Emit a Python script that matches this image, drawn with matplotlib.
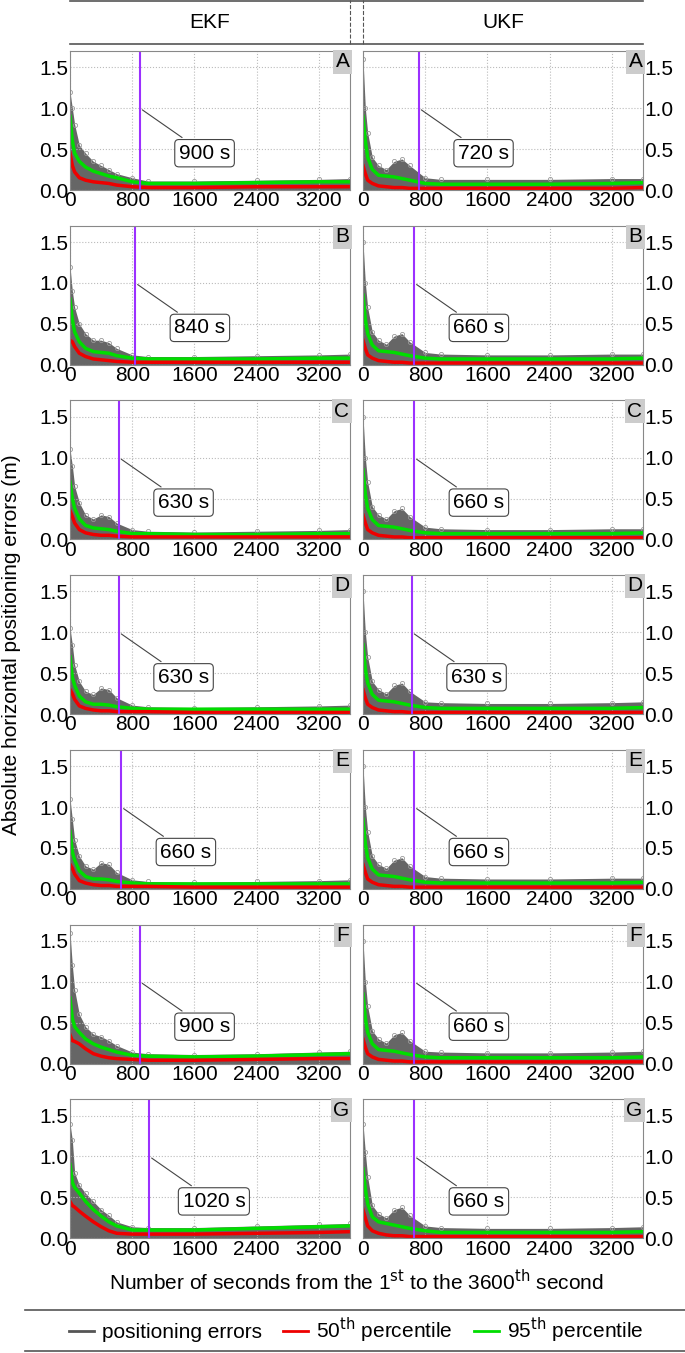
import matplotlib
matplotlib.use('Agg')
import matplotlib.pyplot as plt
from matplotlib.lines import Line2D

t = [0, 30, 60, 120, 200, 300, 400, 500, 600, 800, 1000, 1600, 2400, 3200, 3600]
panels = ['A', 'B', 'C', 'D', 'E', 'F', 'G']
ekf_conv = [900, 840, 630, 630, 660, 900, 1020]
ukf_conv = [720, 660, 660, 630, 660, 660, 660]

ekf_p50 = [
    [0.45, 0.30, 0.22, 0.15, 0.12, 0.10, 0.09, 0.08, 0.06, 0.04, 0.03, 0.03, 0.04, 0.04, 0.04],
    [0.30, 0.28, 0.22, 0.14, 0.10, 0.07, 0.06, 0.05, 0.04, 0.03, 0.03, 0.03, 0.03, 0.03, 0.03],
    [0.35, 0.28, 0.20, 0.12, 0.08, 0.06, 0.05, 0.05, 0.04, 0.03, 0.03, 0.03, 0.03, 0.03, 0.03],
    [0.30, 0.25, 0.18, 0.10, 0.07, 0.05, 0.04, 0.04, 0.03, 0.03, 0.03, 0.02, 0.02, 0.02, 0.02],
    [0.30, 0.25, 0.18, 0.10, 0.07, 0.05, 0.04, 0.04, 0.03, 0.03, 0.03, 0.02, 0.02, 0.02, 0.02],
    [0.35, 0.28, 0.27, 0.24, 0.18, 0.12, 0.09, 0.07, 0.06, 0.05, 0.04, 0.04, 0.05, 0.06, 0.06],
    [0.45, 0.40, 0.38, 0.33, 0.27, 0.20, 0.14, 0.09, 0.06, 0.05, 0.05, 0.05, 0.06, 0.07, 0.08],
]
ekf_p95 = [
    [0.90, 0.60, 0.45, 0.35, 0.28, 0.23, 0.20, 0.17, 0.15, 0.10, 0.08, 0.08, 0.09, 0.10, 0.10],
    [0.80, 0.55, 0.40, 0.28, 0.20, 0.16, 0.15, 0.14, 0.11, 0.08, 0.07, 0.07, 0.07, 0.08, 0.08],
    [0.70, 0.50, 0.38, 0.25, 0.17, 0.14, 0.13, 0.12, 0.10, 0.07, 0.07, 0.06, 0.06, 0.07, 0.07],
    [0.70, 0.45, 0.35, 0.22, 0.15, 0.12, 0.12, 0.11, 0.09, 0.07, 0.06, 0.06, 0.06, 0.06, 0.06],
    [0.70, 0.45, 0.35, 0.22, 0.15, 0.12, 0.12, 0.11, 0.09, 0.07, 0.06, 0.06, 0.06, 0.06, 0.06],
    [0.80, 0.55, 0.45, 0.38, 0.30, 0.24, 0.20, 0.17, 0.14, 0.10, 0.09, 0.08, 0.09, 0.11, 0.12],
    [0.90, 0.68, 0.62, 0.55, 0.45, 0.35, 0.27, 0.20, 0.15, 0.10, 0.10, 0.10, 0.12, 0.14, 0.15],
]
ekf_env = [
    [1.20, 1.00, 0.80, 0.55, 0.45, 0.35, 0.30, 0.25, 0.20, 0.15, 0.11, 0.11, 0.12, 0.13, 0.14],
    [1.20, 0.90, 0.70, 0.50, 0.38, 0.30, 0.30, 0.27, 0.20, 0.12, 0.10, 0.10, 0.11, 0.12, 0.13],
    [1.10, 0.90, 0.65, 0.45, 0.30, 0.25, 0.30, 0.28, 0.20, 0.12, 0.10, 0.09, 0.10, 0.11, 0.12],
    [1.05, 0.85, 0.60, 0.40, 0.28, 0.24, 0.32, 0.30, 0.20, 0.11, 0.09, 0.08, 0.09, 0.10, 0.11],
    [1.10, 0.85, 0.60, 0.40, 0.28, 0.24, 0.32, 0.30, 0.20, 0.11, 0.09, 0.08, 0.09, 0.10, 0.11],
    [1.60, 1.20, 0.90, 0.60, 0.45, 0.36, 0.33, 0.28, 0.22, 0.14, 0.12, 0.11, 0.12, 0.14, 0.15],
    [1.40, 1.20, 0.80, 0.65, 0.55, 0.45, 0.35, 0.28, 0.20, 0.14, 0.13, 0.13, 0.15, 0.17, 0.18],
]
ukf_p50 = [
    [0.30, 0.20, 0.12, 0.08, 0.05, 0.04, 0.03, 0.03, 0.02, 0.02, 0.02, 0.02, 0.02, 0.02, 0.03],
    [0.30, 0.20, 0.12, 0.08, 0.05, 0.04, 0.03, 0.03, 0.02, 0.02, 0.02, 0.02, 0.02, 0.02, 0.02],
    [0.30, 0.20, 0.12, 0.08, 0.05, 0.04, 0.03, 0.03, 0.02, 0.02, 0.02, 0.02, 0.02, 0.02, 0.02],
    [0.30, 0.20, 0.12, 0.08, 0.05, 0.04, 0.03, 0.03, 0.02, 0.02, 0.02, 0.02, 0.02, 0.02, 0.02],
    [0.30, 0.20, 0.12, 0.08, 0.05, 0.04, 0.03, 0.03, 0.02, 0.02, 0.02, 0.02, 0.02, 0.02, 0.02],
    [0.30, 0.20, 0.12, 0.08, 0.05, 0.04, 0.03, 0.03, 0.02, 0.02, 0.02, 0.02, 0.02, 0.02, 0.02],
    [0.35, 0.25, 0.15, 0.09, 0.06, 0.04, 0.03, 0.03, 0.02, 0.02, 0.02, 0.02, 0.02, 0.02, 0.02],
]
ukf_p95 = [
    [0.90, 0.60, 0.40, 0.25, 0.18, 0.17, 0.16, 0.14, 0.12, 0.08, 0.07, 0.07, 0.07, 0.08, 0.09],
    [0.85, 0.55, 0.38, 0.24, 0.17, 0.16, 0.15, 0.13, 0.11, 0.08, 0.07, 0.07, 0.07, 0.07, 0.08],
    [0.85, 0.55, 0.38, 0.24, 0.17, 0.16, 0.15, 0.13, 0.11, 0.08, 0.07, 0.07, 0.07, 0.07, 0.08],
    [0.85, 0.55, 0.38, 0.24, 0.17, 0.16, 0.15, 0.13, 0.11, 0.08, 0.07, 0.07, 0.07, 0.07, 0.08],
    [0.85, 0.55, 0.38, 0.24, 0.17, 0.16, 0.15, 0.13, 0.11, 0.08, 0.07, 0.07, 0.07, 0.07, 0.08],
    [0.85, 0.55, 0.38, 0.24, 0.17, 0.16, 0.15, 0.13, 0.11, 0.08, 0.07, 0.07, 0.07, 0.07, 0.08],
    [0.85, 0.60, 0.42, 0.26, 0.20, 0.18, 0.16, 0.14, 0.12, 0.09, 0.07, 0.07, 0.07, 0.07, 0.08],
]
ukf_env = [
    [1.60, 1.00, 0.70, 0.40, 0.30, 0.25, 0.35, 0.38, 0.30, 0.15, 0.13, 0.13, 0.13, 0.14, 0.14],
    [1.50, 1.00, 0.70, 0.40, 0.30, 0.25, 0.35, 0.38, 0.28, 0.15, 0.13, 0.12, 0.12, 0.13, 0.13],
    [1.50, 1.00, 0.70, 0.40, 0.30, 0.25, 0.35, 0.38, 0.28, 0.15, 0.13, 0.12, 0.12, 0.13, 0.13],
    [1.50, 1.00, 0.70, 0.40, 0.30, 0.25, 0.35, 0.38, 0.28, 0.15, 0.14, 0.13, 0.13, 0.14, 0.15],
    [1.50, 1.00, 0.70, 0.40, 0.30, 0.25, 0.35, 0.38, 0.28, 0.15, 0.13, 0.12, 0.12, 0.13, 0.13],
    [1.50, 1.00, 0.70, 0.40, 0.30, 0.25, 0.35, 0.38, 0.28, 0.15, 0.14, 0.13, 0.13, 0.14, 0.15],
    [1.40, 1.05, 0.75, 0.40, 0.30, 0.25, 0.35, 0.38, 0.28, 0.15, 0.13, 0.12, 0.12, 0.13, 0.14],
]

W, H = 685, 1353
fig = plt.figure(figsize=(W / 100, H / 100), dpi=100)
plt.rcParams['font.family'] = ['Liberation Sans', 'DejaVu Sans']
FS = 15

def px(x0, y0, w, h):
    return [x0 / W, 1 - (y0 + h) / H, w / W, h / H]

GRAY = '#555555'
for r in range(7):
    top = 51 + 174.7 * r
    for c, (p50, p95, env, conv) in enumerate([(ekf_p50, ekf_p95, ekf_env, ekf_conv),
                                                (ukf_p50, ukf_p95, ukf_env, ukf_conv)]):
        ax = fig.add_axes(px(70 if c == 0 else 363, top, 280, 139))
        ax.fill_between(t, 0, env[r], color=GRAY, lw=0, alpha=0.9)
        ax.plot(t, env[r], ls='none', marker='o', ms=3, mfc='none', mec='#999999', mew=0.6)
        ax.plot(t, p95[r], color='#00dd00', lw=2.5)
        ax.plot(t, p50[r], color='#ee0000', lw=2.5)
        ax.axvline(conv[r], color='#9b30ff', lw=1.5)
        ax.annotate(f'{conv[r]} s', xy=(conv[r], 1.0), xytext=(conv[r] + 830, 0.45),
                    ha='center', va='center', fontsize=FS,
                    bbox=dict(boxstyle='round,pad=0.2', fc='white', ec='#444444', lw=0.8),
                    arrowprops=dict(arrowstyle='-', color='#444444', lw=0.8))
        ax.text(0.998, 0.99, panels[r], transform=ax.transAxes, ha='right', va='top',
                fontsize=FS, bbox=dict(boxstyle='square,pad=0.12', fc='#cccccc', ec='none'))
        ax.set_xlim(0, 3600)
        ax.set_ylim(0, 1.7)
        ax.set_xticks([0, 800, 1600, 2400, 3200])
        ax.set_yticks([0.0, 0.5, 1.0, 1.5])
        ax.set_yticklabels(['0.0', '0.5', '1.0', '1.5'])
        ax.grid(True, color='#bbbbbb', ls=':', lw=0.8)
        ax.tick_params(labelsize=FS, length=0, pad=1)
        if c == 1:
            ax.yaxis.tick_right()
        for s in ax.spines.values():
            s.set_color('#888888')

# header strip
fig.add_artist(Line2D([70 / W, 643 / W], [1 - 1 / H, 1 - 1 / H], color='#555555', lw=1.2))
fig.add_artist(Line2D([70 / W, 643 / W], [1 - 44 / H, 1 - 44 / H], color='#555555', lw=1.2))
for xv in (350, 363):
    fig.add_artist(Line2D([xv / W, xv / W], [1 - 44 / H, 1], color='#555555', lw=0.8, ls='--'))
fig.text(210 / W, 1 - 22 / H, 'EKF', ha='center', va='center', fontsize=FS)
fig.text(503 / W, 1 - 22 / H, 'UKF', ha='center', va='center', fontsize=FS)

fig.text(12 / W, 1 - 645 / H, 'Absolute horizontal positioning errors (m)', rotation=90,
         ha='center', va='center', fontsize=FS)
fig.text(356 / W, 1 - 1282 / H, 'Number of seconds from the 1$^{\\mathrm{st}}$ to the 3600$^{\\mathrm{th}}$ second',
         ha='center', va='center', fontsize=FS)

# legend strip
fig.add_artist(Line2D([25 / W, 1], [1 - 1310 / H, 1 - 1310 / H], color='#555555', lw=1.2))
fig.add_artist(Line2D([25 / W, 1], [1 - 1351 / H, 1 - 1351 / H], color='#555555', lw=1.2))
handles = [Line2D([], [], color=GRAY, lw=2), Line2D([], [], color='#ee0000', lw=2),
           Line2D([], [], color='#00dd00', lw=2)]
labels = ['positioning errors', '50$^{\\mathrm{th}}$ percentile', '95$^{\\mathrm{th}}$ percentile']
fig.legend(handles, labels, loc='center', bbox_to_anchor=(356 / W, 1 - 1330 / H), ncol=3,
           frameon=False, fontsize=FS, handlelength=1.2, handletextpad=0.4, columnspacing=1.0)

fig.savefig('out.png', dpi=100)
